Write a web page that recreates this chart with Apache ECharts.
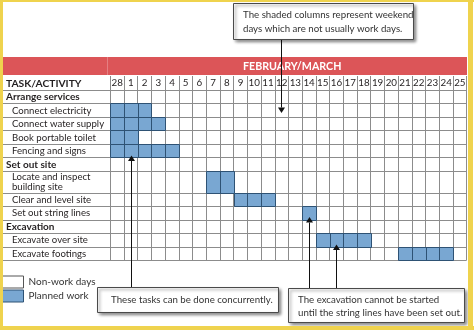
<!DOCTYPE html>
<html><head><meta charset="utf-8">
<script src="https://cdn.jsdelivr.net/npm/echarts@6/dist/echarts.min.js"></script>
<style>html,body{margin:0;padding:0;background:#fff}#c{width:474px;height:330px}</style>
</head><body><div id="c"></div>
<script>
const days = ['28','1','2','3','4','5','6','7','8','9','10','11','12','13','14','15','16','17','18','19','20','21','22','23','24','25'];
const rowLabels = ['Arrange services','Connect electricity','Connect water supply','Book portable toilet','Fencing and signs','Set out site','Locate and inspect\nbuilding site','Clear and level site','Set out string lines','Excavation','Excavate over site','Excavate footings'];
const groupRows = ['Arrange services','Set out site','Excavation'];
const barTasks = ['Connect electricity','Connect water supply','Book portable toilet','Fencing and signs','Locate and inspect\nbuilding site','Clear and level site','Set out string lines','Excavate over site','Excavate footings'];
const barStartDay = ['28','28','28','28','7','9','14','15','21'];
const barDuration = [3,4,2,5,2,3,1,4,4];
const headerTitle = 'FEBRUARY/MARCH';
const columnTitle = 'TASK/ACTIVITY';
const legendNames = ['Non-work days','Planned work'];
const noteWeekend = 'The shaded columns represent weekend\ndays which are not usually work days.';
const noteConcurrent = 'These tasks can be done concurrently.';
const noteExcavation = 'The excavation cannot be started\nuntil the string lines have been set out.';

const FONT = 'Lato';
const BLUE = '#79a7d2', BLUE_EDGE = '#2e5274', GRIDC = '#8c8c8c', TXT = '#231f20';
const crisp = v => Math.round(v) + 0.5;

const rowUnits = rowLabels.map(l => l.indexOf('\n') >= 0 ? 1.6 : 1);
const rowTop = []; let acc = 0;
rowUnits.forEach(u => { rowTop.push(acc); acc += u; });
const totalUnits = acc;

const rowsData = rowLabels.map((l, i) => [0, rowTop[i], rowTop[i] + rowUnits[i], i]);
const barsData = barTasks.map((t, k) => {
  const r = rowLabels.indexOf(t);
  const s = days.indexOf(barStartDay[k]);
  return [s, s + barDuration[k] - 1, rowTop[r], rowTop[r] + rowUnits[r]];
});

function renderRows(params, api) {
  const i = api.value(3);
  const yTop = api.coord([0, api.value(1)])[1];
  const yBot = api.coord([0, api.value(2)])[1];
  const right = params.coordSys.x + params.coordSys.width;
  const isGroup = groupRows.indexOf(rowLabels[i]) >= 0;
  const children = [{
    type: 'line', shape: {x1: 3, y1: crisp(yBot), x2: right, y2: crisp(yBot)},
    style: {stroke: GRIDC, lineWidth: 1}
  }];
  if (i === 0) children.push({
    type: 'line', shape: {x1: 3, y1: crisp(yTop), x2: right, y2: crisp(yTop)},
    style: {stroke: GRIDC, lineWidth: 1}
  });
  children.push({
    type: 'text', x: isGroup ? 6 : 12, y: (yTop + yBot) / 2 + 0.5,
    style: {text: rowLabels[i], fontFamily: FONT, fontSize: isGroup ? 10 : 9.6, fontWeight: isGroup ? 'bold' : 'normal',
      fill: TXT, verticalAlign: 'middle', align: 'left', lineHeight: 10}
  });
  return {type: 'group', children};
}

function renderBars(params, api) {
  const bw = api.size([1, 0])[0];
  const s = api.value(0), e = api.value(1);
  const yTop = crisp(api.coord([s, api.value(2)])[1]);
  const yBot = crisp(api.coord([s, api.value(3)])[1]);
  const xL = crisp(api.coord([s, 0])[0] - bw / 2);
  const xR = crisp(api.coord([e, 0])[0] + bw / 2);
  const children = [{
    type: 'rect', shape: {x: xL, y: yTop, width: xR - xL, height: yBot - yTop},
    style: {fill: BLUE, stroke: BLUE_EDGE, lineWidth: 1}
  }];
  for (let c = s + 1; c <= e; c++) {
    const x = crisp(api.coord([c, 0])[0] - bw / 2);
    children.push({type: 'line', shape: {x1: x, y1: yTop, x2: x, y2: yBot}, style: {stroke: BLUE_EDGE, lineWidth: 1}});
  }
  return {type: 'group', children};
}

function arrow(x, yFrom, yTip) {
  const dir = yTip > yFrom ? 1 : -1;
  const base = yTip - dir * 5.5;
  return [
    {type: 'line', shape: {x1: x, y1: yFrom, x2: x, y2: base}, style: {stroke: '#111', lineWidth: 1}, z: 50},
    {type: 'polygon', shape: {points: [[x - 3.5, base], [x + 3.5, base], [x, yTip]]}, style: {fill: '#111'}, z: 50}
  ];
}
function callout(x, y, w, h, text, tx, ty) {
  return [
    {type: 'rect', shape: {x: x, y: y, width: w, height: h},
      style: {fill: '#fff', stroke: '#4a4a4a', lineWidth: 1, shadowBlur: 3, shadowOffsetX: 2, shadowOffsetY: 2, shadowColor: 'rgba(0,0,0,0.45)'}, z: 60},
    {type: 'text', x: tx, y: ty, style: {text: text, fontFamily: FONT, fontSize: 9.7, fill: '#333', lineHeight: 13.5, verticalAlign: 'top'}, z: 61}
  ];
}

const chart = echarts.init(document.getElementById('c'), null, {renderer: 'canvas'});
chart.setOption({
  backgroundColor: '#fff',
  animation: false,
  grid: {left: 110.3, right: 7.3, top: 90, bottom: 70},
  xAxis: {
    type: 'category', data: days, position: 'top', boundaryGap: true,
    axisLine: {show: false},
    axisTick: {show: true, length: 14, interval: 0, lineStyle: {color: GRIDC}},
    axisLabel: {interval: 0, margin: 2.5, fontFamily: FONT, fontSize: 9.8, color: TXT},
    splitLine: {show: true, interval: 0, lineStyle: {color: GRIDC, width: 1}}
  },
  yAxis: {type: 'value', inverse: true, min: 0, max: totalUnits, show: false},
  legend: {
    orient: 'vertical', left: -1, top: 275, padding: 0, itemWidth: 24, itemHeight: 12, itemGap: 0,
    selectedMode: false, icon: 'rect',
    textStyle: {fontFamily: FONT, fontSize: 10, color: '#333', lineHeight: 12, padding: [2, 0, 0, 0]},
    data: [
      {name: legendNames[0], itemStyle: {color: '#fff', borderColor: '#555', borderWidth: 1}},
      {name: legendNames[1], itemStyle: {color: BLUE, borderColor: BLUE_EDGE, borderWidth: 1}}
    ]
  },
  series: [
    {type: 'custom', name: legendNames[0], data: [], renderItem: () => null},
    {type: 'custom', name: 'rows', data: rowsData, renderItem: renderRows, silent: true, z: 3},
    {type: 'custom', name: legendNames[1], data: barsData, renderItem: renderBars, z: 4,
      itemStyle: {color: BLUE}}
  ],
  graphic: [
    {type: 'rect', shape: {x: 3, y: 57, width: 464, height: 18}, style: {fill: '#dc5558'}, z: 10},
    {type: 'line', shape: {x1: 107.5, y1: 57, x2: 107.5, y2: 75}, style: {stroke: 'rgba(255,255,255,0.25)', lineWidth: 1}, z: 11},
    {type: 'text', x: 243, y: 66.5, style: {text: headerTitle, fontFamily: FONT, fontSize: 10.7, fontWeight: 'bold', fill: '#fff', verticalAlign: 'middle'}, z: 11},
    {type: 'text', x: 6, y: 83.5, style: {text: columnTitle, fontFamily: FONT, fontSize: 10.3, fontWeight: 'bold', fill: TXT, verticalAlign: 'middle'}, z: 11},
    ...callout(233.5, 3.5, 180, 36, noteWeekend, 243, 8.3),
    ...callout(97.5, 287.5, 181, 25, noteConcurrent, 111, 293.3),
    ...callout(288.5, 288.5, 176, 34, noteExcavation, 298, 292.8),
    ...arrow(281.5, 40, 113),
    ...arrow(131.5, 287, 155.5),
    ...arrow(309.5, 288, 217),
    ...arrow(336.5, 288, 244.5),
    {type: 'rect', shape: {x: 0, y: 0, width: 3, height: 330}, style: {fill: '#efd34e'}, z: 100},
    {type: 'rect', shape: {x: 0, y: 0, width: 474, height: 2}, style: {fill: '#efd34e'}, z: 100},
    {type: 'rect', shape: {x: 468, y: 0, width: 5, height: 330}, style: {fill: '#efd34e'}, z: 100},
    {type: 'rect', shape: {x: 0, y: 326, width: 474, height: 4}, style: {fill: '#efd34e'}, z: 100}
  ]
});
</script></body></html>
